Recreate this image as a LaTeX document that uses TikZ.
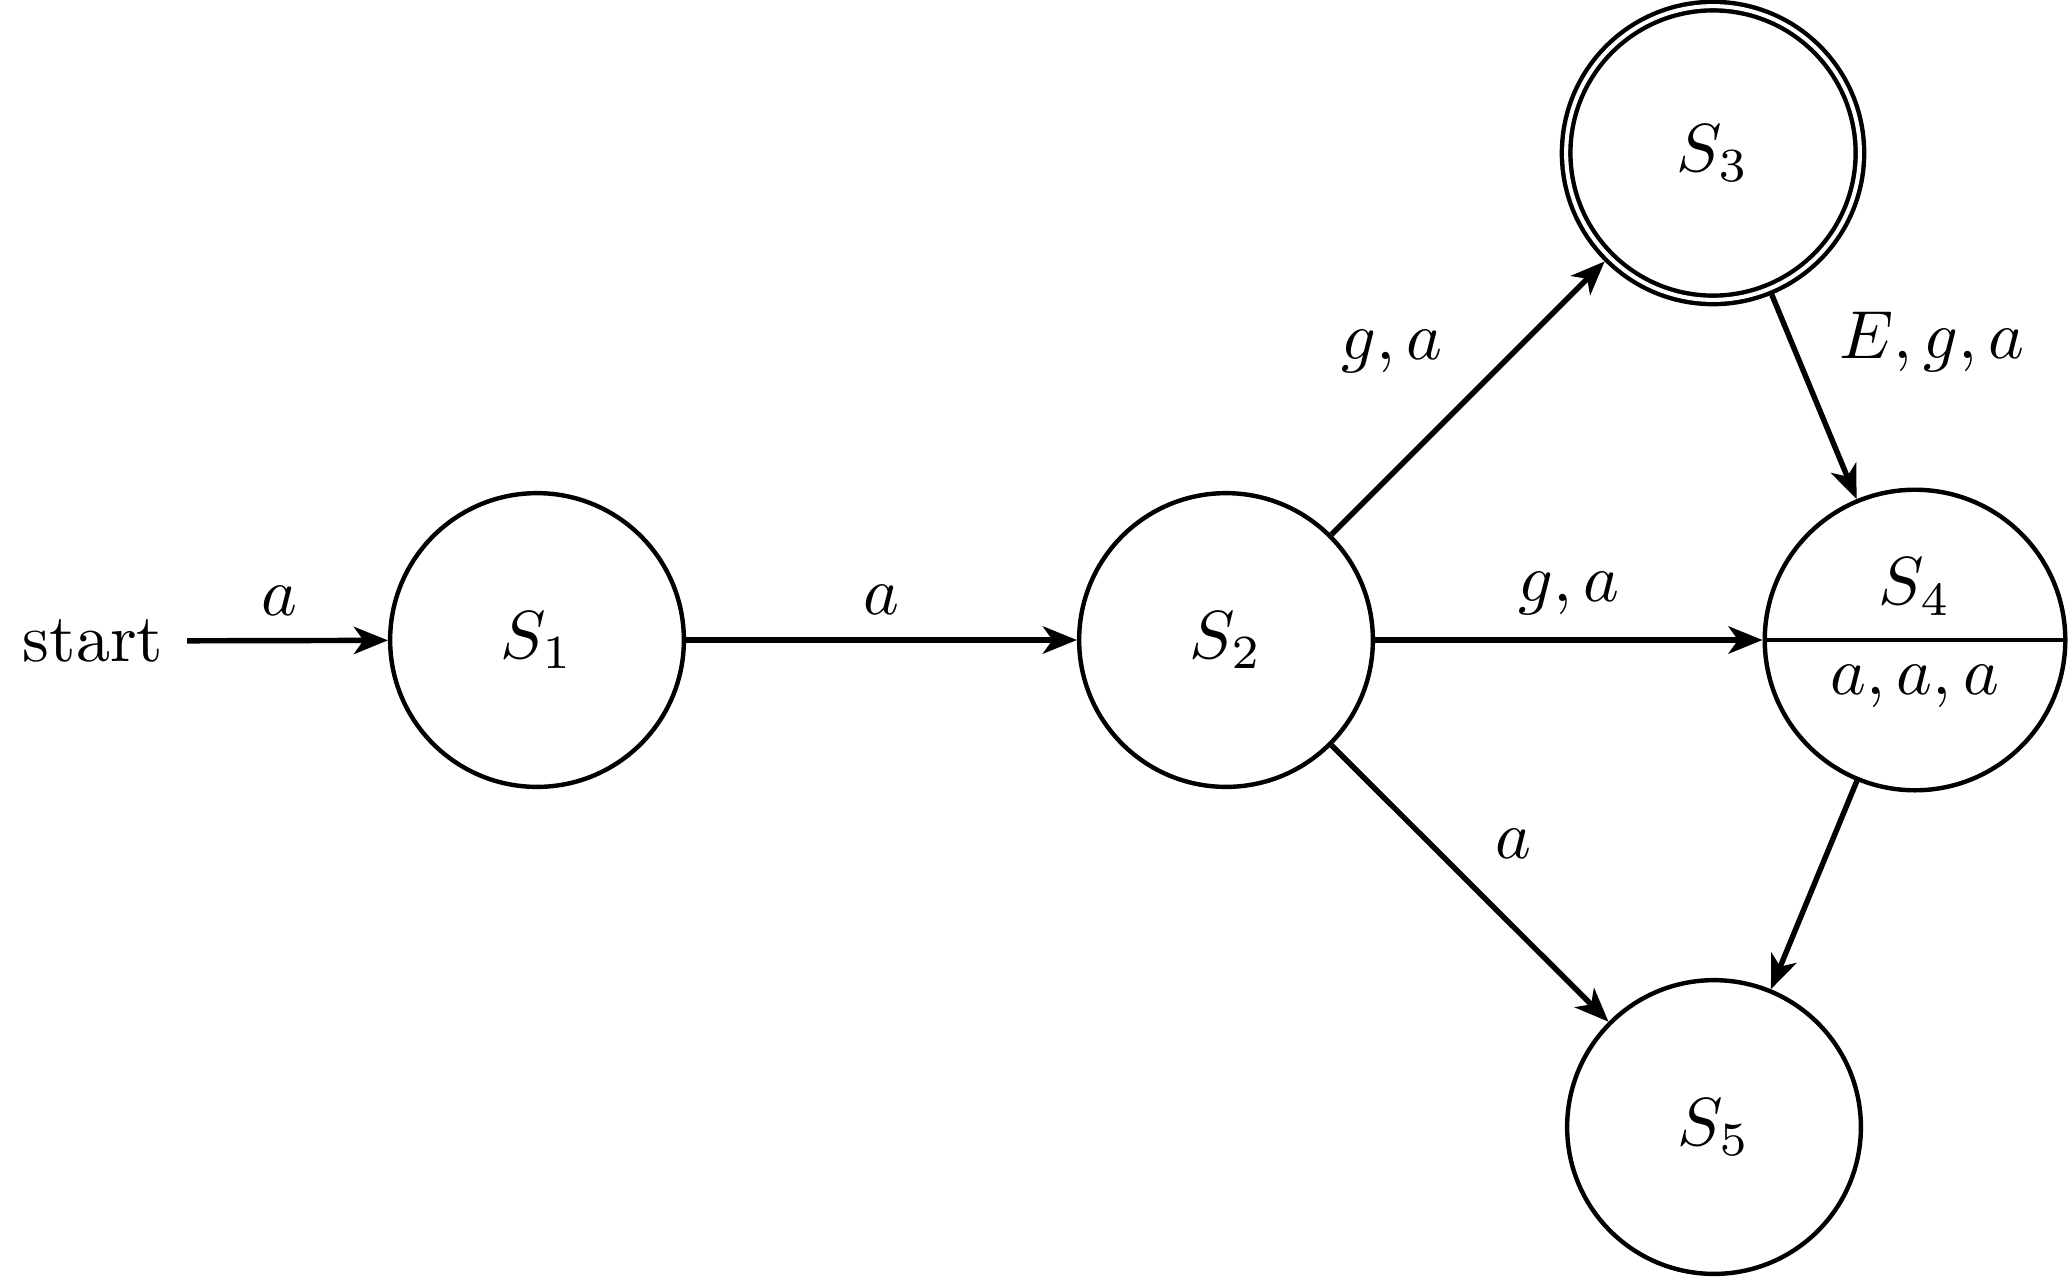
\documentclass[tikz,border=0pt]{standalone}
\usetikzlibrary{arrows.meta,shapes.multipart}
\begin{document}
\begin{tikzpicture}[x=0.14706pt,y=-0.14706pt,
  statenode/.style={circle,draw,line width=0.65pt,minimum size=43.2pt,inner sep=0pt},
  acceptnode/.style={statenode,double,double distance=0.6pt,outer sep=0.95pt},
  splitnode/.style={circle split,draw,line width=0.65pt,minimum size=44.2pt},
  conn/.style={draw,line width=0.8pt,-{Stealth[length=5pt,width=4pt,inset=1.4pt]}}
]
\useasboundingbox (0,0) rectangle (2068,1277);
\node (start) at (93,641) {start};
\node[statenode] (S1) at (537,640) {$S_1$};
\node[statenode] (S2) at (1226,640) {$S_2$};
\node[acceptnode] (S3) at (1713,153) {$S_3$};
\node[splitnode] (S4) at (1915,640) {$S_4$\nodepart{lower}$a,a,a$};
\node[statenode] (S5) at (1714,1127) {$S_5$};
\draw[conn] (start) -- node[above,pos=0.46] {$a$} (S1);
\draw[conn] (S1) -- node[above] {$a$} (S2);
\draw[conn] (S2) -- node[above left] {$g,a$} (S3);
\draw[conn] (S2) -- node[above] {$g,a$} (S4);
\draw[conn] (S2) -- node[above right] {$a$} (S5);
\draw[conn] (S3) -- node[above right] {$E,g,a$} (S4);
\draw[conn] (S4) -- (S5);
\end{tikzpicture}
\end{document}
